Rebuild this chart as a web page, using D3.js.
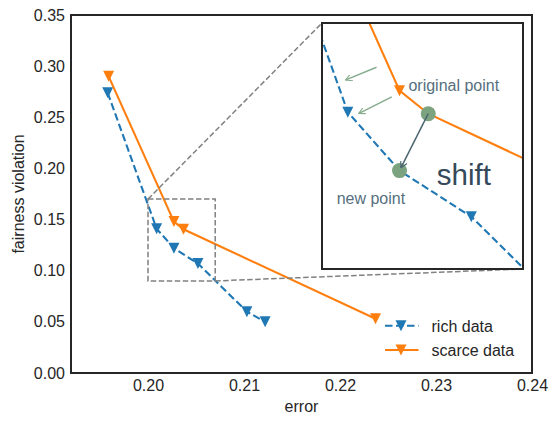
<!DOCTYPE html>
<html>
<head>
<meta charset="utf-8">
<script src="https://cdn.jsdelivr.net/npm/d3@7"></script>
<style>
  body { margin: 0; background: #fff; }
  svg text { font-family: "Liberation Sans", Arial, sans-serif; }
</style>
</head>
<body>
<div id="chart"></div>
<script>
// data
const richError = [0.1958, 0.2009, 0.2027, 0.2052, 0.2103, 0.2122];
const richViolation = [0.274, 0.141, 0.122, 0.107, 0.060, 0.050];
const scarceError = [0.1959, 0.2027, 0.2037, 0.2237];
const scarceViolation = [0.290, 0.148, 0.1405, 0.053];

const xTicks = [0.20, 0.21, 0.22, 0.23, 0.24];
const yTicks = [0.00, 0.05, 0.10, 0.15, 0.20, 0.25, 0.30, 0.35];

// zoomed region
const zoomX = [0.200, 0.207];
const zoomY = [0.090, 0.170];

// annotations inside the zoom (data units)
const originalPoint = [0.2037, 0.1405];
const newPoint = [0.2027, 0.122];
const greenArrows = [
    { from: [0.20190, 0.1556], to: [0.20083, 0.1515] },
    { from: [0.20243, 0.1460], to: [0.20129, 0.1406] }
];
const labels = [
    { text: 'original point', pos: [0.20301, 0.1478], size: 16, color: '#56707e' },
    { text: 'new point', pos: [0.20051, 0.1112], size: 16, color: '#56707e' },
    { text: 'shift', pos: [0.20400, 0.1172], size: 29.5, color: '#34495a' }
];

const BLUE = '#1f77b4', ORANGE = '#ff7f0e', SPINE = '#262626';
const FONT = 16;

const width = 555, height = 423;
const box = { left: 71, right: 532, top: 15, bottom: 373 };
const inBox = { left: 322, right: 523, top: 23, bottom: 269 };

const svg = d3.select('#chart').append('svg')
    .attr('width', width).attr('height', height);

// 0.20 sits at 148 and 0.24 at the right spine
const x = d3.scaleLinear()
    .domain([0.20 - (148 - box.left) / (box.right - 148) * 0.04, 0.24])
    .range([box.left, box.right]);
const y = d3.scaleLinear().domain([0, 0.35]).range([box.bottom, box.top]);

const xi = d3.scaleLinear().domain(zoomX).range([inBox.left, inBox.right]);
const yi = d3.scaleLinear().domain(zoomY).range([inBox.bottom, inBox.top]);

const rich = richError.map((e, i) => [e, richViolation[i]]);
const scarce = scarceError.map((e, i) => [e, scarceViolation[i]]);

const tri = d3.symbol().type({
    draw(ctx, s) {
        const h = Math.sqrt(s) / 2;
        ctx.moveTo(-h, -h); ctx.lineTo(h, -h); ctx.lineTo(0, h); ctx.closePath();
    }
}).size(121);

function drawSeries(g, data, sx, sy, color, dash) {
    g.append('path')
        .datum(data)
        .attr('d', d3.line().x(d => sx(d[0])).y(d => sy(d[1])))
        .attr('fill', 'none')
        .attr('stroke', color)
        .attr('stroke-width', 2.1)
        .attr('stroke-dasharray', dash);
    g.selectAll(null).data(data).enter().append('path')
        .attr('d', tri)
        .attr('transform', d => `translate(${sx(d[0])},${sy(d[1])})`)
        .attr('fill', color);
}

// clip for main axes
svg.append('clipPath').attr('id', 'mainClip').append('rect')
    .attr('x', box.left).attr('y', box.top)
    .attr('width', box.right - box.left).attr('height', box.bottom - box.top);

const main = svg.append('g').attr('clip-path', 'url(#mainClip)');
drawSeries(main, rich, x, y, BLUE, '7.5,3.5');
drawSeries(main, scarce, x, y, ORANGE, null);

// zoom rectangle + connectors
const gray = '#808080';
svg.append('rect')
    .attr('x', x(zoomX[0])).attr('y', y(zoomY[1]))
    .attr('width', x(zoomX[1]) - x(zoomX[0]))
    .attr('height', y(zoomY[0]) - y(zoomY[1]))
    .attr('fill', 'none').attr('stroke', gray)
    .attr('stroke-width', 1.5).attr('stroke-dasharray', '5.5,2.5');
svg.append('line')
    .attr('x1', x(zoomX[0])).attr('y1', y(zoomY[1]))
    .attr('x2', inBox.left).attr('y2', inBox.top)
    .attr('stroke', gray).attr('stroke-width', 1.5).attr('stroke-dasharray', '5.5,2.5');
svg.append('line')
    .attr('x1', x(zoomX[1])).attr('y1', y(zoomY[0]))
    .attr('x2', inBox.right).attr('y2', inBox.bottom)
    .attr('stroke', gray).attr('stroke-width', 1.5).attr('stroke-dasharray', '5.5,2.5');

// legend
const legend = svg.append('g');
[['rich data', BLUE, '7.5,3.5'], ['scarce data', ORANGE, null]].forEach((d, i) => {
    const ly = 325.7 + i * 24.3;
    legend.append('line')
        .attr('x1', 385).attr('x2', 418.5).attr('y1', ly).attr('y2', ly)
        .attr('stroke', d[1]).attr('stroke-width', 2.1).attr('stroke-dasharray', d[2]);
    legend.append('path').attr('d', tri)
        .attr('transform', `translate(401,${ly})`).attr('fill', d[1]);
    legend.append('text')
        .attr('x', 431.5).attr('y', ly + 6)
        .attr('font-size', FONT).attr('fill', SPINE)
        .text(d[0]);
});

// main frame
svg.append('rect')
    .attr('x', box.left).attr('y', box.top)
    .attr('width', box.right - box.left).attr('height', box.bottom - box.top)
    .attr('fill', 'none').attr('stroke', SPINE).attr('stroke-width', 2);

// axes (no tick marks)
const xAxis = svg.append('g')
    .attr('transform', `translate(0,${box.bottom})`)
    .call(d3.axisBottom(x).tickValues(xTicks).tickFormat(d3.format('.2f')).tickSize(0).tickPadding(7));
const yAxis = svg.append('g')
    .attr('transform', `translate(${box.left},0)`)
    .call(d3.axisLeft(y).tickValues(yTicks).tickFormat(d3.format('.2f')).tickSize(0).tickPadding(6));
[xAxis, yAxis].forEach(a => {
    a.select('.domain').remove();
    a.selectAll('text').attr('font-size', FONT).attr('fill', SPINE)
        .style('font-family', '"Liberation Sans", Arial, sans-serif');
});

svg.append('text')
    .attr('x', (box.left + box.right) / 2).attr('y', 412)
    .attr('text-anchor', 'middle').attr('font-size', FONT).attr('fill', SPINE)
    .text('error');
svg.append('text')
    .attr('transform', `translate(24,${(box.top + box.bottom) / 2}) rotate(-90)`)
    .attr('text-anchor', 'middle').attr('font-size', FONT).attr('fill', SPINE)
    .text('fairness violation');

// inset
svg.append('rect')
    .attr('x', inBox.left).attr('y', inBox.top)
    .attr('width', inBox.right - inBox.left).attr('height', inBox.bottom - inBox.top)
    .attr('fill', '#fff');
svg.append('clipPath').attr('id', 'inClip').append('rect')
    .attr('x', inBox.left).attr('y', inBox.top)
    .attr('width', inBox.right - inBox.left).attr('height', inBox.bottom - inBox.top);
const inset = svg.append('g').attr('clip-path', 'url(#inClip)');
drawSeries(inset, rich, xi, yi, BLUE, '7.5,3.5');
drawSeries(inset, scarce, xi, yi, ORANGE, null);

const defs = svg.append('defs');
function marker(id, color) {
    defs.append('marker')
        .attr('id', id).attr('viewBox', '0 0 10 10')
        .attr('refX', 9).attr('refY', 5)
        .attr('markerWidth', 7).attr('markerHeight', 7)
        .attr('markerUnits', 'userSpaceOnUse')
        .attr('orient', 'auto')
        .append('path').attr('d', 'M0,0 L9.5,5 L0,10')
        .attr('fill', 'none').attr('stroke', color).attr('stroke-width', 1.6);
}
marker('arrGreen', '#86ad8e');
marker('arrDark', '#4c6672');

greenArrows.forEach(a => {
    inset.append('line')
        .attr('x1', xi(a.from[0])).attr('y1', yi(a.from[1]))
        .attr('x2', xi(a.to[0])).attr('y2', yi(a.to[1]))
        .attr('stroke', '#86ad8e').attr('stroke-width', 1.5)
        .attr('marker-end', 'url(#arrGreen)');
});

[originalPoint, newPoint].forEach(p => {
    inset.append('circle')
        .attr('cx', xi(p[0])).attr('cy', yi(p[1])).attr('r', 7.5)
        .attr('fill', '#7ba37f');
});

inset.append('line')
    .attr('x1', xi(originalPoint[0])).attr('y1', yi(originalPoint[1]))
    .attr('x2', xi(newPoint[0]) + 1.5).attr('y2', yi(newPoint[1]) - 3)
    .attr('stroke', '#4c6672').attr('stroke-width', 1.5)
    .attr('marker-end', 'url(#arrDark)');

labels.forEach(l => {
    inset.append('text')
        .attr('x', xi(l.pos[0])).attr('y', yi(l.pos[1]))
        .attr('font-size', l.size).attr('fill', l.color)
        .text(l.text);
});

svg.append('rect')
    .attr('x', inBox.left).attr('y', inBox.top)
    .attr('width', inBox.right - inBox.left).attr('height', inBox.bottom - inBox.top)
    .attr('fill', 'none').attr('stroke', SPINE).attr('stroke-width', 2);
</script>
</body>
</html>
